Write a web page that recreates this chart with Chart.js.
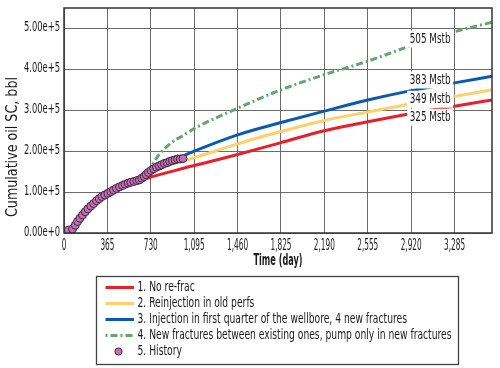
<!DOCTYPE html>
<html><head><meta charset="utf-8">
<script src="https://cdn.jsdelivr.net/npm/chart.js@4"></script>
<style>html,body{margin:0;padding:0;background:#fff;overflow:hidden}</style>
</head><body>
<canvas id="c" width="500" height="368"></canvas>
<script>
// ---- data ----
const xTickLabels = [0, 365, 730, 1095, 1460, 1825, 2190, 2555, 2920, 3285];
const yTickLabels = [0, 100000, 200000, 300000, 400000, 500000];

const historyDays = [22,36,72,95,114,134,156,179,201,226,249,274,296,319,344,369,394,416,441,467,492,514,540,562,587,612,634,654,674,691,710,732,755,777,800,822,844,867,889,911,934,956,978,1001];
const historyOil  = [4000,7000,10000,19000,28000,36000,44000,52000,59000,66000,72000,79000,84000,89000,93000,97000,101000,105000,109000,113000,116000,119000,122000,124000,126000,128000,130000,134000,138000,143000,148000,153000,157000,161000,164000,167000,170000,172000,175000,177000,179000,181000,181000,182000];

// common early-time simulated match (all scenarios)
const earlyDays = [0, 30, 60, 100, 150, 200, 250, 300, 365, 450, 550, 640];
const earlyOil  = [0, 3000, 9000, 24000, 43000, 59000, 72000, 85000, 96000, 109000, 123000, 131000];

const noRefracDays = [700, 730, 900, 1050, 1095, 1460, 1825, 2190, 2555, 2920, 3285, 3600];
const noRefracOil  = [134000, 137000, 150000, 162000, 165000, 192000, 221000, 250000, 272000, 292000, 310000, 325000];

const reinjDays = [690, 730, 850, 1000, 1095, 1460, 1825, 2190, 2555, 2920, 3285, 3600];
const reinjOil  = [142000, 148000, 162000, 176000, 184000, 218000, 248000, 275000, 296000, 316000, 334000, 350000];

const firstQuarterDays = [680, 730, 800, 900, 1000, 1095, 1460, 1825, 2190, 2555, 2920, 3285, 3600];
const firstQuarterOil  = [140000, 152000, 164000, 176000, 188000, 200000, 240000, 270000, 298000, 325000, 348000, 367000, 383000];

const newFracDays = [660, 700, 730, 750, 800, 900, 1000, 1095, 1460, 1825, 2190, 2555, 2920, 3285, 3600];
const newFracOil  = [135000, 150000, 160000, 170000, 192000, 220000, 238000, 255000, 305000, 350000, 387000, 420000, 458000, 492000, 515000];

const seriesNames = [
  "1. No re-frac",
  "2. Reinjection in old perfs",
  "3. Injection in first quarter of the wellbore, 4 new fractures",
  "4. New fractures between existing ones, pump only in new fractures",
  "5. History"
];
const endLabels = ["325 Mstb", "349 Mstb", "383 Mstb", "505 Mstb"];

// ---- helpers ----
const FONT = '"Liberation Sans Narrow","DejaVu Sans Condensed","Liberation Sans",Arial,sans-serif';
function xy(ds, vs) { return ds.map((d, i) => ({x: d, y: vs[i]})); }
function withEarly(ds, vs) { return xy(earlyDays.concat(ds), earlyOil.concat(vs)); }
function fontStr(o) { return (o.bold ? 'bold ' : '') + o.size + 'px ' + FONT; }
// condensed text styles: horizontal squeeze chosen so a reference string matches its width in the source chart
const STYLES = {
  xtick:  {size: 15,   ref: '1,095', w: 21},
  ytick:  {size: 14.5, ref: '5.00e+5', w: 36},
  legend: {size: 14.5, ref: seriesNames[3], w: 314},
  label:  {size: 14.5, ref: '505 Mstb', w: 41},
  xtitle: {size: 15,   ref: 'Time (day)', w: 49, bold: true},
  ytitle: {size: 16,   ref: 'Cumulative oil SC, bbl', w: 140}
};
function prepStyles(ctx) {
  Object.values(STYLES).forEach(s => {
    if (s.sx) return;
    ctx.save(); ctx.font = fontStr(s); s.sx = s.w / ctx.measureText(s.ref).width; ctx.restore();
  });
}
function txt(ctx, s, x, y, st, o) {
  o = o || {};
  ctx.save();
  ctx.font = fontStr(st);
  ctx.translate(x, y);
  if (o.rot) ctx.rotate(o.rot);
  ctx.scale(st.sx, 1);
  ctx.textAlign = o.align || 'left';
  ctx.textBaseline = 'middle';
  ctx.fillStyle = '#1a1a1a';
  ctx.fillText(s, 0, 0);
  ctx.restore();
}

const COLORS = {red: '#e8202a', yellow: '#fdd06a', blue: '#0a5bb0', green: '#64a66e', dot: '#c76db8'};

const datasets = [
  {label: seriesNames[0], data: withEarly(noRefracDays, noRefracOil), borderColor: COLORS.red, borderWidth: 3, order: 2},
  {label: seriesNames[1], data: withEarly(reinjDays, reinjOil), borderColor: COLORS.yellow, borderWidth: 3, order: 4},
  {label: seriesNames[2], data: withEarly(firstQuarterDays, firstQuarterOil), borderColor: COLORS.blue, borderWidth: 3, order: 1},
  {label: seriesNames[3], data: withEarly(newFracDays, newFracOil), borderColor: COLORS.green, borderWidth: 3, borderDash: [7, 3, 2, 3], order: 5},
  {label: seriesNames[4], data: xy(historyDays, historyOil), showLine: false, pointRadius: 4, pointBackgroundColor: COLORS.dot, pointBorderColor: '#3a2a3a', pointBorderWidth: 1, order: 0}
];
datasets.forEach((d, i) => { if (i < 4) { d.pointRadius = 0; d.fill = false; d.cubicInterpolationMode = 'monotone'; } });

// label anchors in data space (day, oil)
const labelAnchors = [
  {d: 3080, v: 283000, idx: 0},
  {d: 3080, v: 327000, idx: 1},
  {d: 3080, v: 374000, idx: 2},
  {d: 3080, v: 474000, idx: 3}
];

const drawPlugin = {
  id: 'custom',
  beforeDraw(chart) { prepStyles(chart.ctx); },
  afterDatasetsDraw(chart) {
    const ctx = chart.ctx, xs = chart.scales.x, ys = chart.scales.y;
    labelAnchors.forEach(a => {
      const px = xs.getPixelForValue(a.d), py = ys.getPixelForValue(a.v);
      ctx.save(); ctx.fillStyle = '#fff'; ctx.fillRect(px - 23, py - 8.5, 46, 17); ctx.restore();
      txt(ctx, endLabels[a.idx], px, py, STYLES.label, {align: 'center'});
    });
  },
  afterDraw(chart) {
    const ctx = chart.ctx, ca = chart.chartArea, xs = chart.scales.x, ys = chart.scales.y;
    ctx.save(); ctx.strokeStyle = '#333'; ctx.lineWidth = 1.5;
    ctx.strokeRect(ca.left, ca.top, ca.right - ca.left, ca.bottom - ca.top); ctx.restore();
    xs.ticks.forEach(t => txt(ctx, t.value.toLocaleString('en-US'), xs.getPixelForValue(t.value), ca.bottom + 13, STYLES.xtick, {align: 'center'}));
    ys.ticks.forEach(t => txt(ctx, t.value.toExponential(2), ca.left - 4, ys.getPixelForValue(t.value) - 1, STYLES.ytick, {align: 'right'}));
    txt(ctx, 'Time (day)', (ca.left + ca.right) / 2, 261, STYLES.xtitle, {align: 'center'});
    txt(ctx, 'Cumulative oil SC, bbl', 13, 147, STYLES.ytitle, {rot: -Math.PI / 2, align: 'center'});
    const L = {x: 96.5, y: 276.5, w: 362, h: 88};
    ctx.save(); ctx.strokeStyle = '#444'; ctx.lineWidth = 1.3; ctx.strokeRect(L.x, L.y, L.w, L.h); ctx.restore();
    chart.data.datasets.forEach((ds, i) => {
      const cy = 287.5 + i * 16;
      ctx.save();
      if (ds.showLine === false) {
        ctx.beginPath(); ctx.arc(118.5, cy, 3.6, 0, Math.PI * 2);
        ctx.fillStyle = ds.pointBackgroundColor; ctx.fill();
        ctx.strokeStyle = ds.pointBorderColor; ctx.lineWidth = 1; ctx.stroke();
      } else {
        ctx.beginPath(); ctx.moveTo(105.5, cy); ctx.lineTo(134, cy);
        ctx.strokeStyle = ds.borderColor; ctx.lineWidth = 3;
        if (ds.borderDash) ctx.setLineDash([2, 3, 7, 3]);
        ctx.stroke();
      }
      ctx.restore();
      txt(ctx, ds.label, 137.5, cy, STYLES.legend);
    });
  }
};

new Chart(document.getElementById('c'), {
  type: 'line',
  data: {datasets},
  options: {
    responsive: false, animation: false,
    layout: {padding: {left: 0, right: 8, top: 8, bottom: 95}},
    plugins: {legend: {display: false}, tooltip: {enabled: false}},
    scales: {
      x: {
        type: 'linear', min: 0, max: 3600,
        afterBuildTicks: s => { s.ticks = xTickLabels.map(v => ({value: v})); },
        afterFit: s => { s.height = 40; },
        ticks: {display: false},
        grid: {color: '#6b6b6b', lineWidth: 1, drawTicks: false},
        border: {display: false}
      },
      y: {
        type: 'linear', min: 0, max: 550000,
        afterBuildTicks: s => { s.ticks = yTickLabels.map(v => ({value: v})); },
        afterFit: s => { s.width = 64; },
        ticks: {display: false},
        grid: {color: '#6b6b6b', lineWidth: 1, drawTicks: false},
        border: {display: false}
      }
    }
  },
  plugins: [drawPlugin]
});
</script>
</body></html>
